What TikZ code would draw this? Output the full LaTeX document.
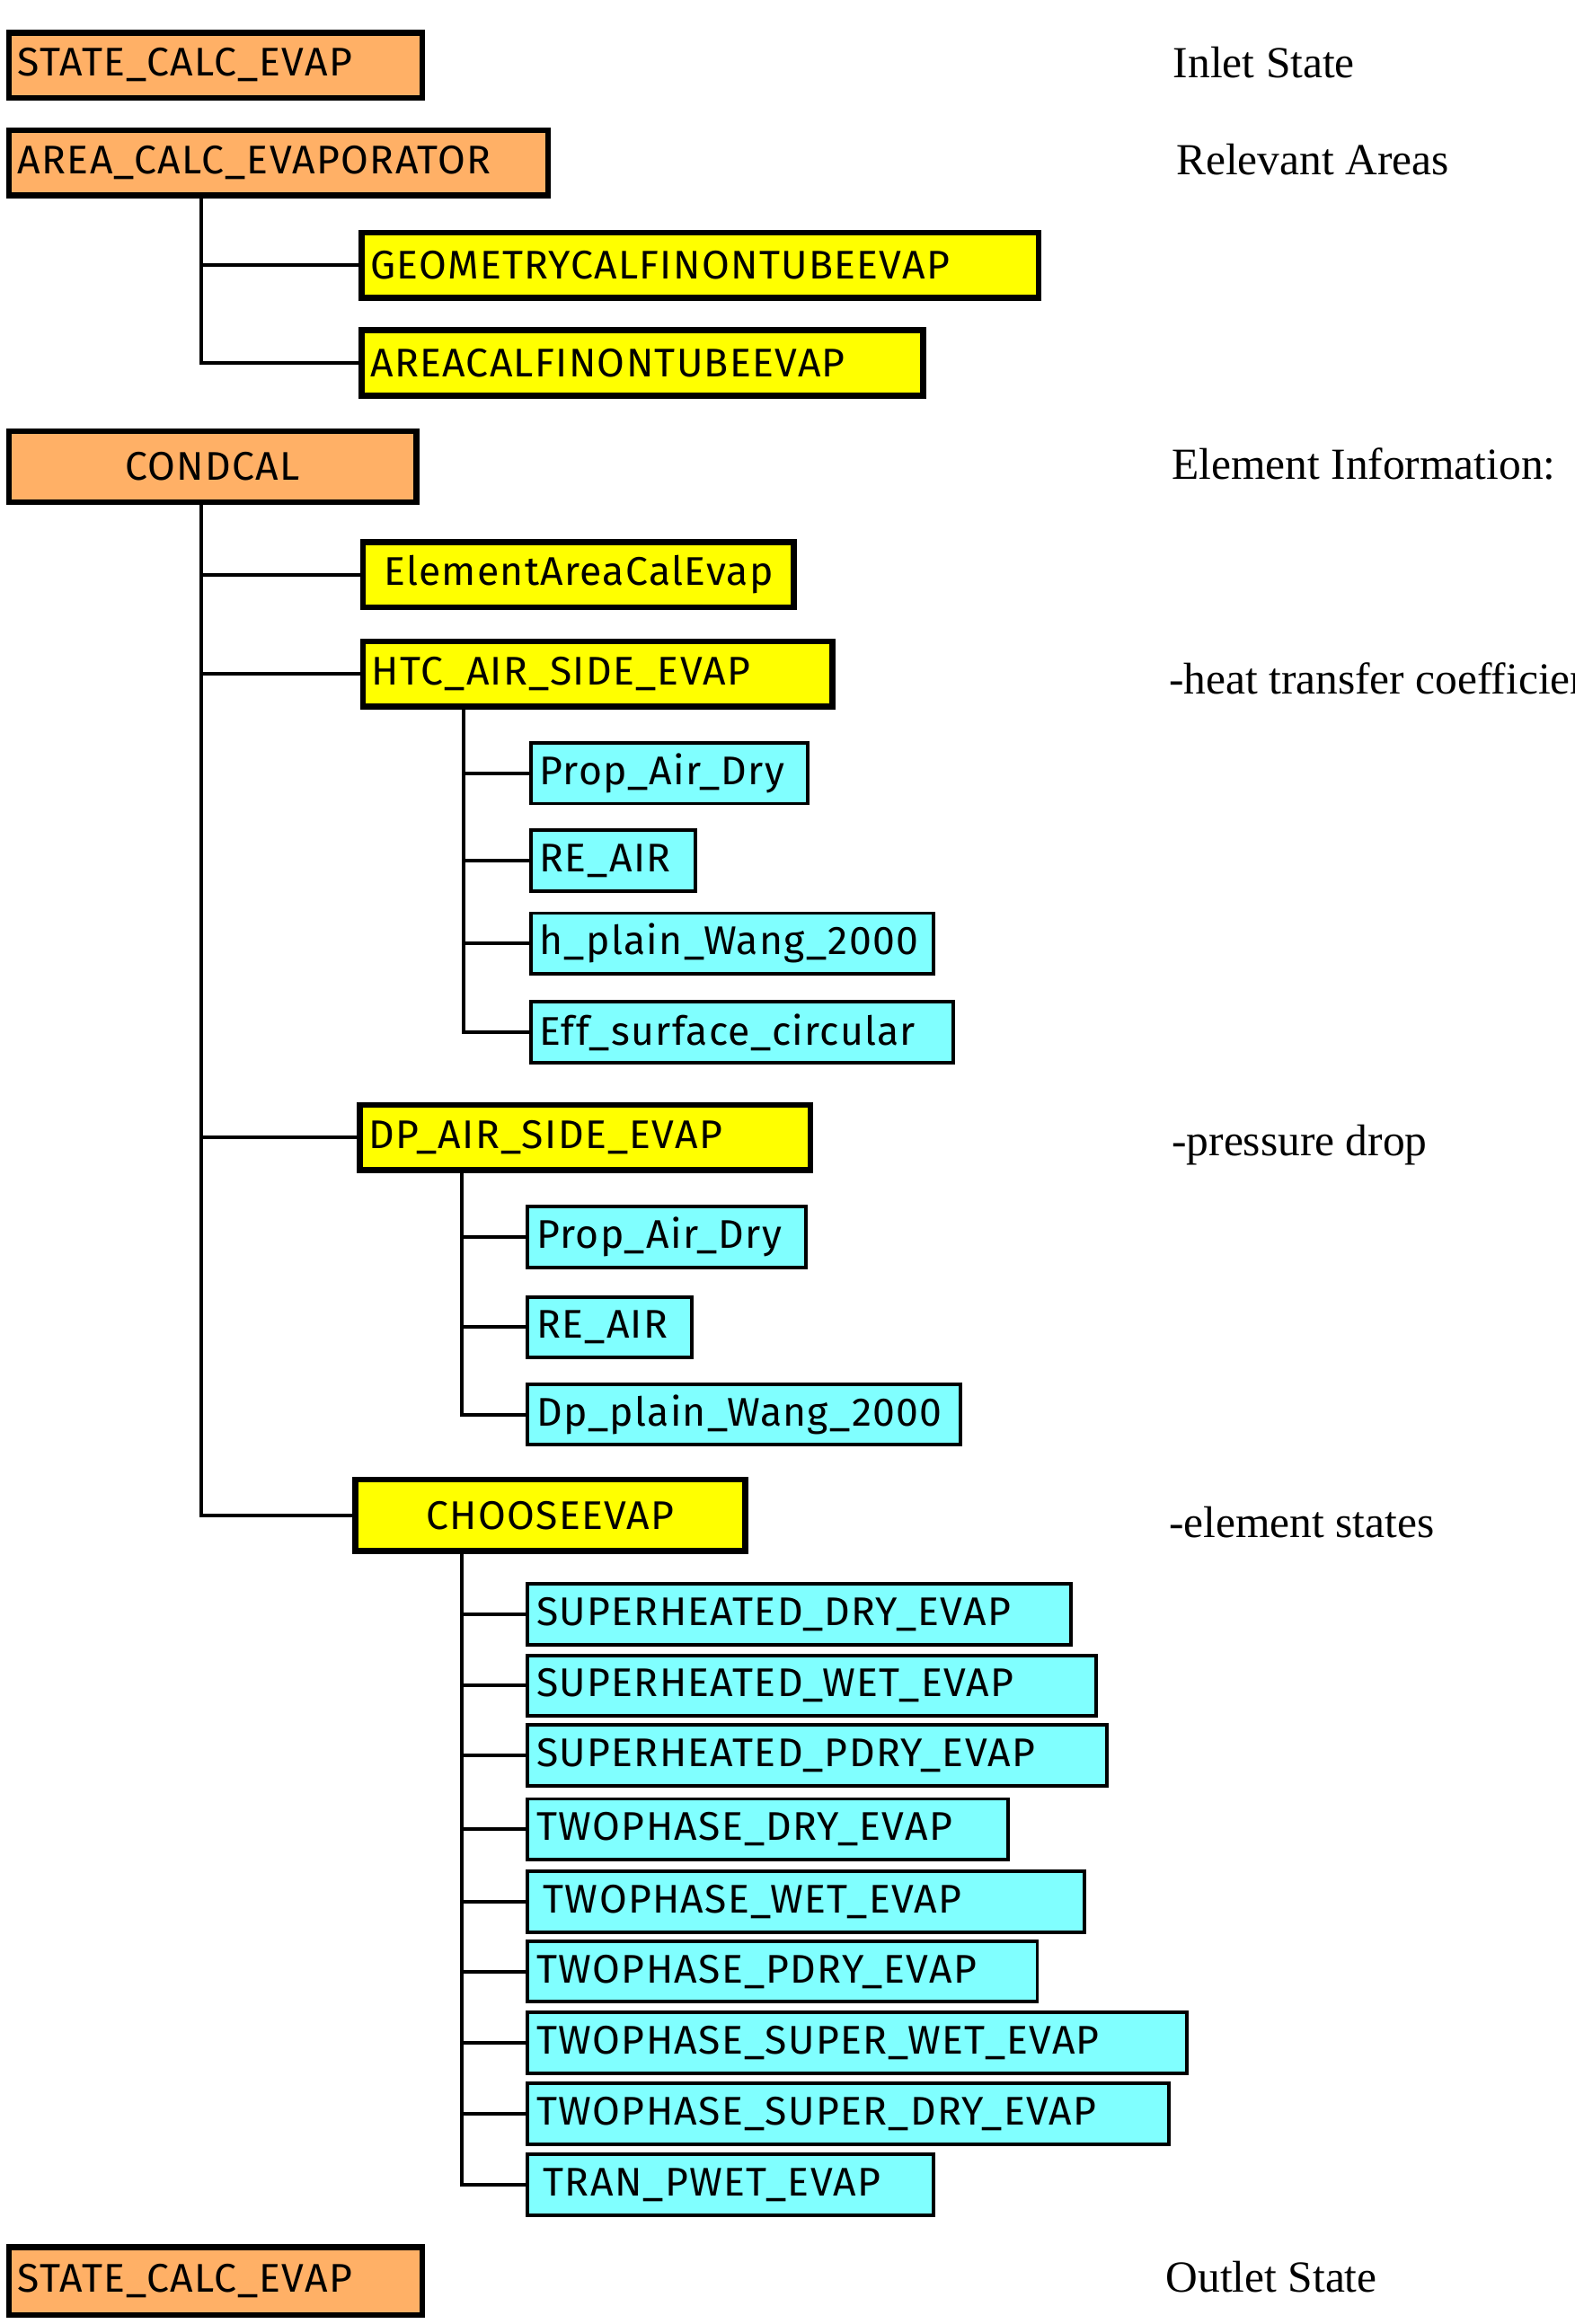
\documentclass[tikz,border=0pt]{standalone}
\usepackage{fontspec}
\setmainfont{Liberation Serif}
\newfontfamily\boxfont[LetterSpace=3]{Fira Sans}
\usepackage{tikz}
\definecolor{boxorange}{HTML}{FFB066}
\definecolor{boxyellow}{HTML}{FFFF00}
\definecolor{boxcyan}{HTML}{80FFFF}
\begin{document}
\begin{tikzpicture}[x=0.5pt, y=-0.5pt,
    box/.style={draw=black, anchor=west, inner xsep=3pt, inner ysep=0pt, minimum height=22pt, font=\boxfont\fontsize{13.5}{15}\selectfont, align=left},
    mainbox/.style={box, fill=boxorange, line width=2pt},
    subbox/.style={box, fill=boxyellow, line width=2pt},
    leafbox/.style={box, fill=boxcyan, line width=1.2pt, minimum height=20.5pt},
    note/.style={anchor=west, font=\fontsize{15}{17}\selectfont},
    link/.style={line width=1.2pt}
]
\useasboundingbox (0,0) rectangle (1063,1569);
\clip (0,0) rectangle (1063,1569);
% top level
\node[mainbox, text width=133.5pt] (state) at (4,44) {STATE\_CALC\_EVAP};
\node[mainbox, text width=176pt] (area) at (4,110) {AREA\_CALC\_EVAPORATOR};
\node[subbox, text width=222.5pt] (geo) at (242,179) {GEOMETRYCALFINONTUBEEVAP};
\node[subbox, text width=183.5pt] (areacal) at (242,245) {AREACALFINONTUBEEVAP};
\node[mainbox, text width=131.5pt, align=center, minimum height=24pt] (cond) at (4,315) {CONDCAL};
\node[subbox, text width=139.5pt, align=center] (elem) at (243,388) {ElementAreaCalEvap};
\node[subbox, text width=152.5pt] (htc) at (243,455) {HTC\_AIR\_SIDE\_EVAP};
\node[leafbox, text width=87.5pt] (prop1) at (357,522) {Prop\_Air\_Dry};
\node[leafbox, text width=49.5pt] (re1) at (357,581) {RE\_AIR};
\node[leafbox, text width=130pt] (hpl) at (357,637) {h\_plain\_Wang\_2000};
\node[leafbox, text width=136.5pt] (eff) at (357,697) {Eff\_surface\_circular};
\node[subbox, text width=146pt] (dp) at (241,768) {DP\_AIR\_SIDE\_EVAP};
\node[leafbox, text width=88pt] (prop2) at (355,835) {Prop\_Air\_Dry};
\node[leafbox, text width=49.5pt] (re2) at (355,896) {RE\_AIR};
\node[leafbox, text width=140pt] (dpl) at (355,955) {Dp\_plain\_Wang\_2000};
\node[subbox, text width=125.5pt, align=center, minimum height=24pt] (choose) at (238,1023) {CHOOSEEVAP};
\node[leafbox, text width=177.5pt] (shdry) at (355,1090) {SUPERHEATED\_DRY\_EVAP};
\node[leafbox, text width=186pt] (shwet) at (355,1138) {SUPERHEATED\_WET\_EVAP};
\node[leafbox, text width=189.5pt] (shpdry) at (355,1185) {SUPERHEATED\_PDRY\_EVAP};
\node[leafbox, text width=156pt] (tpdry) at (355,1235) {TWOPHASE\_DRY\_EVAP};
\node[leafbox, text width=182pt] (tpwet) at (355,1284) {\,TWOPHASE\_WET\_EVAP};
\node[leafbox, text width=166pt] (tppdry) at (355,1331) {TWOPHASE\_PDRY\_EVAP};
\node[leafbox, text width=216.5pt] (tpswet) at (355,1379) {TWOPHASE\_SUPER\_WET\_EVAP};
\node[leafbox, text width=210.5pt] (tpsdry) at (355,1427) {TWOPHASE\_SUPER\_DRY\_EVAP};
\node[leafbox, text width=131pt] (tran) at (355,1475) {\,TRAN\_PWET\_EVAP};
\node[mainbox, text width=133.5pt, minimum height=23pt] (outstate) at (4,1540) {STATE\_CALC\_EVAP};
% notes
\node[note] (n1) at (785,42) {Inlet State};
\node[note] (n2) at (787,108) {Relevant Areas};
\node[note] (n3) at (784,313) {Element Information:};
\node[note] (n4) at (782,458) {-heat transfer coefficient};
\node[note] (n5) at (784,773) {-pressure drop};
\node[note] (n6) at (782,1028) {-element states};
\node[note] (n7) at (780,1537) {Outlet State};
% trunks
\coordinate (ta) at (136,0);
\coordinate (tb) at (313,0);
\coordinate (tc) at (312,0);
\draw[link] (area.south -| ta) -- (areacal.west -| ta) -- (areacal.west);
\draw[link] (geo.west -| ta) -- (geo.west);
\draw[link] (cond.south -| ta) -- (choose.west -| ta) -- (choose.west);
\foreach \n in {elem, htc, dp} \draw[link] (\n.west -| ta) -- (\n.west);
\draw[link] (htc.south -| tb) -- (eff.west -| tb) -- (eff.west);
\foreach \n in {prop1, re1, hpl} \draw[link] (\n.west -| tb) -- (\n.west);
\draw[link] (dp.south -| tc) -- (dpl.west -| tc) -- (dpl.west);
\foreach \n in {prop2, re2} \draw[link] (\n.west -| tc) -- (\n.west);
\draw[link] (choose.south -| tc) -- (tran.west -| tc) -- (tran.west);
\foreach \n in {shdry, shwet, shpdry, tpdry, tpwet, tppdry, tpswet, tpsdry} \draw[link] (\n.west -| tc) -- (\n.west);
\end{tikzpicture}
\end{document}
